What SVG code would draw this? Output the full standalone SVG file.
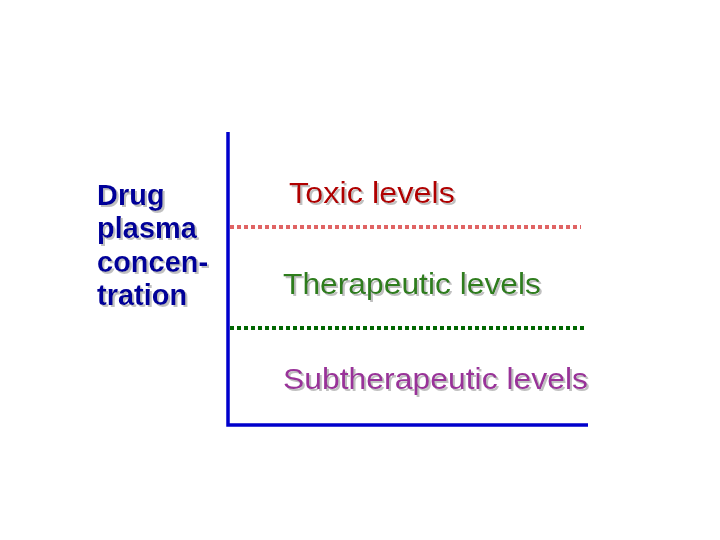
<svg xmlns="http://www.w3.org/2000/svg" width="720" height="540" viewBox="0 0 720 540">
<defs>
<filter id="sh" x="-10%" y="-20%" width="130%" height="150%">
<feOffset in="SourceAlpha" dx="2" dy="2" result="o"/>
<feFlood flood-color="#c0c0c0"/>
<feComposite in2="o" operator="in" result="s"/>
<feMerge><feMergeNode in="s"/><feMergeNode in="SourceGraphic"/></feMerge>
</filter>
</defs>
<style>
.lab{font-family:"Liberation Sans",Arial,sans-serif;font-weight:bold;font-size:29px;fill:#000099}
.lvl{font-family:"Liberation Sans",Arial,sans-serif;font-size:30px}
</style>
<rect width="720" height="540" fill="#fff"/>
<g id="ylabel" class="lab" filter="url(#sh)">
<text x="97" y="205">Drug</text><text x="97" y="238">plasma</text><text x="97" y="272">concen-</text><text x="97" y="305">tration</text>
</g>
<g id="axes" fill="none" stroke="#0000cc" stroke-width="3.5">
<path d="M228,132 V425 H588"/>
</g>
<g id="connectors" fill="none" stroke-width="4">
<line x1="230" y1="227" x2="581" y2="227" stroke="#e06464" stroke-dasharray="4 3"/>
<line x1="230" y1="328" x2="585" y2="328" stroke="#006600" stroke-dasharray="4 3"/>
</g>
<g id="toxic" filter="url(#sh)">
<text class="lvl" x="289" y="203" textLength="166" lengthAdjust="spacingAndGlyphs" fill="#b00000">Toxic levels</text>
</g>
<g id="therapeutic" filter="url(#sh)">
<text class="lvl" x="283" y="294" textLength="258" lengthAdjust="spacingAndGlyphs" fill="#2e7d1e">Therapeutic levels</text>
</g>
<g id="subtherapeutic" filter="url(#sh)">
<text class="lvl" x="283" y="389" textLength="305" lengthAdjust="spacingAndGlyphs" fill="#993399">Subtherapeutic levels</text>
</g>
</svg>
